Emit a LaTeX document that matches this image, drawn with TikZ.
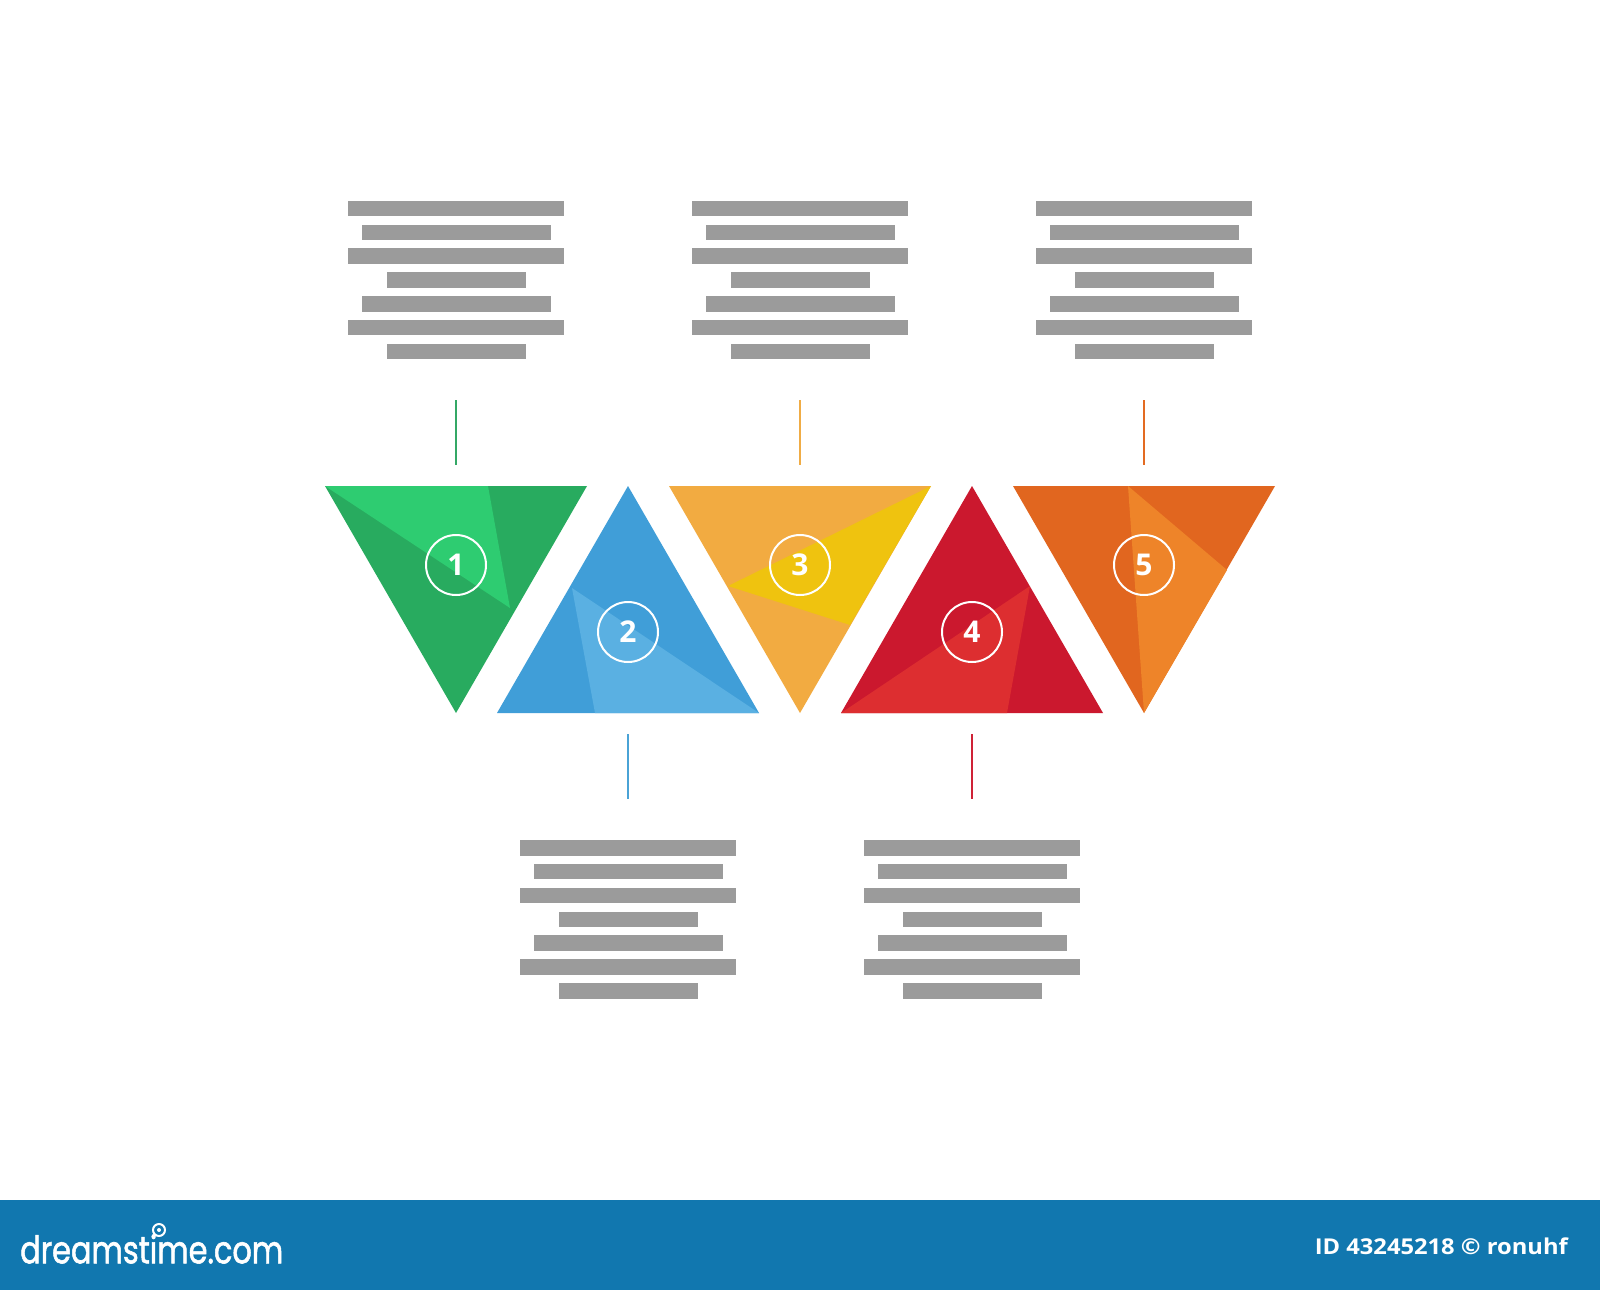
\documentclass[tikz,border=0pt]{standalone}
\usepackage{fontspec}
\setmainfont{Open Sans}
\newfontfamily\logofont[FakeBold=1.6]{Poppins}
\definecolor{gdark}{HTML}{28AB5F}
\definecolor{glight}{HTML}{2ECC71}
\definecolor{bbase}{HTML}{409ED8}
\definecolor{blight}{HTML}{5AB0E2}
\definecolor{obase}{HTML}{F2AB41}
\definecolor{oyel}{HTML}{EFC30F}
\definecolor{rbase}{HTML}{CB182E}
\definecolor{rlight}{HTML}{DD2E30}
\definecolor{odark}{HTML}{E1661F}
\definecolor{olight}{HTML}{EE8429}
\definecolor{bargray}{HTML}{9B9B9B}
\definecolor{bannerblue}{HTML}{1177AF}
\definecolor{lgreen}{HTML}{34A866}
\definecolor{lblue}{HTML}{4AA3D6}
\definecolor{lorange}{HTML}{F0AC45}
\definecolor{lred}{HTML}{CF2236}
\definecolor{lorange5}{HTML}{E36B22}
\tikzset{
  numcirc/.style={circle, draw=white, line width=2pt, minimum size=60pt, inner sep=0pt,
    text=white, font=\fontsize{30}{30}\selectfont\bfseries},
  conn/.style={line width=2pt},
  graybar/.style={fill=bargray},
}
\newcommand\textblock[2]{%
  \foreach \w [count=\i from 0] in {216,189,216,139,189,216,139}{
    \fill[graybar] ({#1-\w/2},{#2+\i*23.85}) rectangle ({#1+\w/2},{#2+\i*23.85+15.5});
  }%
}
\begin{document}
\begin{tikzpicture}[x=1pt,y=-1pt]
\useasboundingbox (0,0) rectangle (1600,1290);
\fill[white] (0,0) rectangle (1600,1290);

% triangle 1 (down, green)
\fill[gdark] (325,486) -- (587,486) -- (456,713) -- cycle;
\fill[glight] (325,486) -- (488,486) -- (510,608) -- cycle;
% triangle 2 (up, blue)
\fill[bbase] (628,486) -- (759,713) -- (497,713) -- cycle;
\fill[blight] (572,588) -- (759,713) -- (595,713) -- cycle;
% triangle 3 (down, orange)
\fill[obase] (669,486) -- (931,486) -- (800,713) -- cycle;
\fill[oyel] (931,486) -- (728,586) -- (850,625) -- cycle;
% triangle 4 (up, red)
\fill[rbase] (972,486) -- (1103,713) -- (841,713) -- cycle;
\fill[rlight] (841,713) -- (1030,586) -- (1007,713) -- cycle;
% triangle 5 (down, dark orange)
\fill[odark] (1013,486) -- (1275,486) -- (1144,713) -- cycle;
\fill[olight] (1128,486) -- (1227,570) -- (1144,713) -- cycle;

% numbered circles
\node[numcirc] (c1) at (456,565) {1};
\node[numcirc] (c2) at (628,632) {2};
\node[numcirc] (c3) at (800,565) {3};
\node[numcirc] (c4) at (972,632) {4};
\node[numcirc] (c5) at (1144,565) {5};

% connector lines
\coordinate (l1a) at (456,400); \coordinate (l1b) at (456,465);
\coordinate (l3a) at (800,400); \coordinate (l3b) at (800,465);
\coordinate (l5a) at (1144,400); \coordinate (l5b) at (1144,465);
\coordinate (l2a) at (628,734); \coordinate (l2b) at (628,799);
\coordinate (l4a) at (972,734); \coordinate (l4b) at (972,799);
\draw[conn, draw=lgreen] (l1a) -- (l1b);
\draw[conn, draw=lorange] (l3a) -- (l3b);
\draw[conn, draw=lorange5] (l5a) -- (l5b);
\draw[conn, draw=lblue] (l2a) -- (l2b);
\draw[conn, draw=lred] (l4a) -- (l4b);

% text placeholder blocks
\textblock{456}{200.7}
\textblock{800}{200.7}
\textblock{1144}{200.7}
\textblock{628}{840}
\textblock{972}{840}

% banner
\fill[bannerblue] (0,1200) rectangle (1600,1290);
\node[anchor=base west, inner sep=0pt, text=white] (logo) at (20,1263.3)
  {\resizebox{263pt}{29pt}{\logofont dreamstime.com}};
\draw[white, line width=2pt] (159,1230) circle (6);
\fill[white] (159,1230) circle (2);
\node[anchor=base east, inner sep=0pt, text=white] (credit) at (1568,1254.3)
  {\resizebox{253pt}{16.7pt}{\bfseries ID 43245218 © ronuhf}};
\end{tikzpicture}
\end{document}
